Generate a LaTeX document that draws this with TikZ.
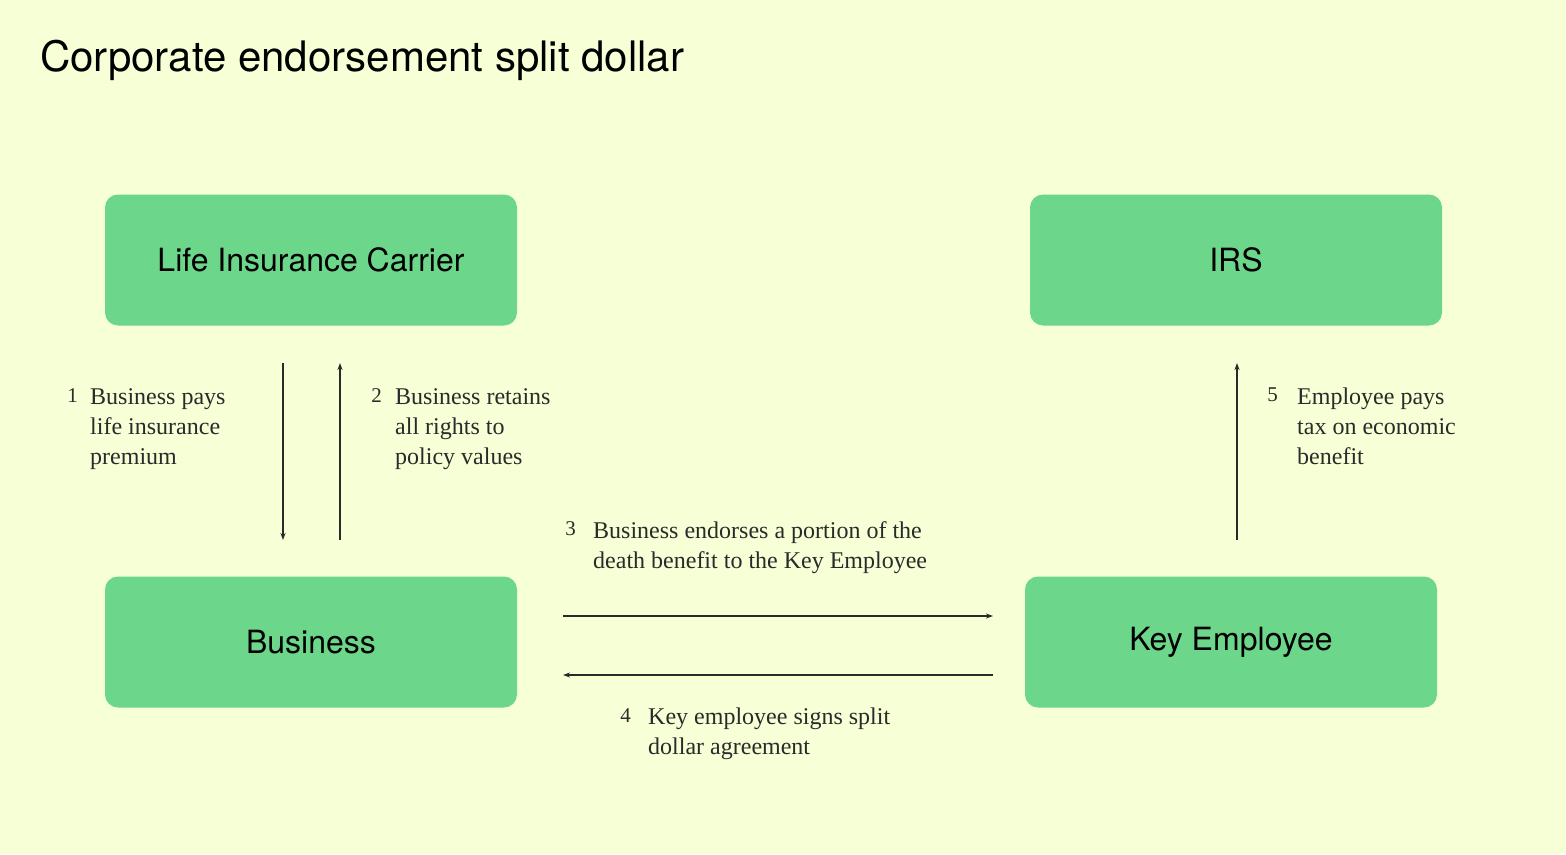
\documentclass[tikz,border=0pt]{standalone}
\usepackage{fontspec}
\setmainfont{Liberation Serif}
\newfontfamily\hsans{TeX Gyre Heros}
\usetikzlibrary{arrows.meta}
\definecolor{bg}{HTML}{F7FFD6}
\definecolor{boxg}{HTML}{6CD68A}
\definecolor{ink}{HTML}{2A2A2A}
\begin{document}
\begin{tikzpicture}[x=1pt,y=-1pt,
  ent/.style={fill=boxg,rounded corners=13pt,minimum width=412pt,minimum height=131pt,font=\hsans\fontsize{32}{38}\selectfont,text=black},
  lbl/.style={anchor=north west,inner sep=0,align=left,font=\fontsize{24}{30}\selectfont,text=ink},
  num/.style={anchor=north east,inner sep=0,font=\fontsize{21}{30}\selectfont,text=ink},
  arr/.style={draw=ink,line width=1.3pt,-{Stealth[length=7pt,width=5pt]}}]
\fill[bg] (0,0) rectangle (1566,854);
\useasboundingbox (0,0) rectangle (1566,854);
\node[anchor=west,inner sep=0,font=\hsans\fontsize{42}{50}\selectfont] (title) at (40,60) {Corporate endorsement split dollar};
\node[ent] (lic) at (311,260) {Life Insurance Carrier};
\node[ent] (irs) at (1236,260) {IRS};
\node[ent] (bus) at (311,642) {Business};
\node[ent] (key) at (1231,642) {Key Employee};
\coordinate (a1s) at (283,363); \coordinate (a1e) at (283,540);
\coordinate (a2s) at (340,540); \coordinate (a2e) at (340,363);
\coordinate (a5s) at (1237,540); \coordinate (a5e) at (1237,363);
\coordinate (a3s) at (563,616); \coordinate (a3e) at (993,616);
\coordinate (a4s) at (993,675); \coordinate (a4e) at (563,675);
\draw[arr] (a1s) -- (a1e);
\draw[arr] (a2s) -- (a2e);
\draw[arr] (a5s) -- (a5e);
\draw[arr] (a3s) -- (a3e);
\draw[arr] (a4s) -- (a4e);
\node[num] (n1) at (78,388) {1};
\node[lbl] (t1) at (90,388) {Business pays\\life insurance\\premium};
\node[num] (n2) at (382,388) {2};
\node[lbl] (t2) at (395,388) {Business retains\\all rights to\\policy values};
\node[num] (n5) at (1278,388) {5};
\node[lbl] (t5) at (1297,388) {Employee pays\\tax on economic\\benefit};
\node[num] (n3) at (576,521) {3};
\node[lbl] (t3) at (593,521) {Business endorses a portion of the\\death benefit to the Key Employee};
\node[num] (n4) at (631,708) {4};
\node[lbl] (t4) at (648,708) {Key employee signs split\\dollar agreement};
\end{tikzpicture}
\end{document}
